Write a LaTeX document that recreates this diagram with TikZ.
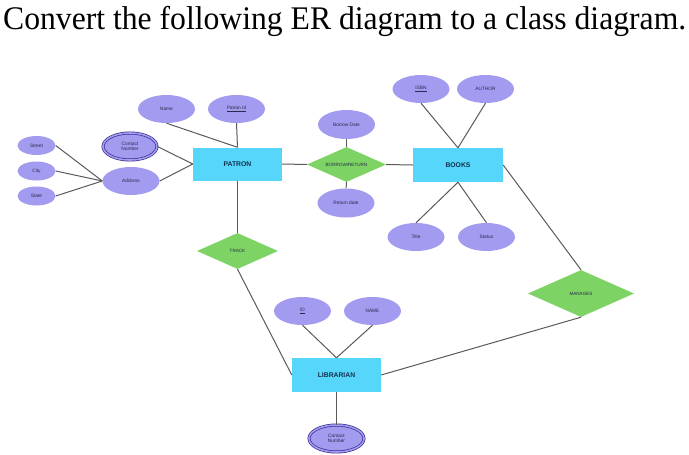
\documentclass[tikz,border=0pt]{standalone}
\usepackage{fontspec}
\setmainfont{Liberation Serif}
\setsansfont{Liberation Sans}
\usetikzlibrary{shapes.geometric}
\definecolor{attrfill}{HTML}{A39BF0}
\definecolor{attrline}{HTML}{3A2F8F}
\definecolor{entfill}{HTML}{55D6FA}
\definecolor{relfill}{HTML}{7DD364}
\definecolor{conn}{HTML}{5A5A5A}
\definecolor{enttext}{HTML}{14324F}
\definecolor{smalltext}{HTML}{2A2A4A}
\tikzset{
  attr/.style={ellipse, fill=attrfill, inner sep=0pt, minimum width=57pt, minimum height=28pt,
    font=\sffamily\fontsize{4.8}{5.3}\selectfont, text=smalltext, align=center},
  sattr/.style={attr, minimum width=38pt, minimum height=19pt},
  multattr/.style={attr, draw=attrline, line width=0.7pt, double=attrfill, double distance=1.6pt},
  entity/.style={rectangle, fill=entfill, inner sep=0pt, minimum width=89pt, minimum height=33pt,
    font=\sffamily\bfseries\fontsize{6.8}{7}\selectfont, text=enttext},
  rel/.style={diamond, fill=relfill, inner sep=0pt, aspect=2.2,
    font=\sffamily\fontsize{4.6}{5}\selectfont, text=smalltext},
  conn/.style={draw=conn, line width=1pt},
}
\begin{document}
\begin{tikzpicture}[x=1pt,y=-1pt]
\useasboundingbox (0,0) rectangle (689,455);
\fill[white] (0,0) rectangle (689,455);
% title
\node[anchor=base west, inner sep=0pt, font=\fontsize{33}{36}\selectfont] (title) at (3,30) {\resizebox{683pt}{\height}{Convert the following ER diagram to a class diagram.}};
% entities
\node[entity] (patron) at (237.5,164) {PATRON};
\node[entity, minimum width=90pt, minimum height=34pt] (books) at (458,165) {BOOKS};
\node[entity, minimum height=34pt] (lib) at (336.5,375) {LIBRARIAN};
% relationships
\node[rel, minimum width=79pt, minimum height=35pt] (borrow) at (346.5,164.5) {BORROW/RETURN};
\node[rel, minimum width=81pt, minimum height=36pt] (track) at (237.5,251) {TRACK};
\node[rel, minimum width=106pt, minimum height=47pt] (manages) at (581,293.5) {MANAGES};
% patron attributes
\node[attr] (name) at (166.5,109) {Name};
\node[attr] (pid) at (236.5,109) {\underline{Patron Id}};
\node[multattr, minimum width=54pt, minimum height=27pt] (pcontact) at (130,146.5) {Contact\\Number};
\node[attr] (address) at (131,181) {Address};
\node[sattr] (street) at (36.5,145.5) {Street};
\node[sattr] (city) at (36.5,171) {City};
\node[sattr] (state) at (36.5,196) {State};
% borrow attributes
\node[attr, minimum height=29pt] (bdate) at (346.5,124.5) {Borrow Date};
\node[attr, minimum height=29pt] (rdate) at (346,203) {Return date};
% book attributes
\node[attr] (isbn) at (421,89) {\underline{ISBN}};
\node[attr] (author) at (485.5,89) {AUTHOR};
\node[attr] (btitle) at (416,237) {Title};
\node[attr] (status) at (486.5,237) {Status};
% librarian attributes
\node[attr] (lid) at (302.5,311) {\underline{ID}};
\node[attr] (lname) at (372.5,311) {NAME};
\node[multattr, minimum width=55pt, minimum height=27pt] (lcontact) at (336.5,438.5) {Contact\\Number};
% connectors
\draw[conn] (street.east) -- (address.west);
\draw[conn] (city.east) -- (address.west);
\draw[conn] (state.east) -- (address.west);
\draw[conn] (address.east) -- (patron.west);
\draw[conn] (pcontact.east) -- (patron.west);
\draw[conn] (name.south) -- (patron.north);
\draw[conn] (pid.south) -- (patron.north);
\draw[conn] (patron.east) -- (borrow.west);
\draw[conn] (borrow.east) -- (books.west);
\draw[conn] (bdate.south) -- (borrow.north);
\draw[conn] (borrow.south) -- (rdate.north);
\draw[conn] (isbn.south) -- (books.north);
\draw[conn] (author.south) -- (books.north);
\draw[conn] (btitle.north) -- (books.south);
\draw[conn] (status.north) -- (books.south);
\draw[conn] (books.east) -- (manages.north);
\draw[conn] (manages.south) -- (lib.east);
\draw[conn] (patron.south) -- (track.north);
\draw[conn] (track.south) -- (lib.west);
\draw[conn] (lid.south) -- (lib.north);
\draw[conn] (lname.south) -- (lib.north);
\draw[conn] (lib.south) -- (lcontact.north);
\end{tikzpicture}
\end{document}
